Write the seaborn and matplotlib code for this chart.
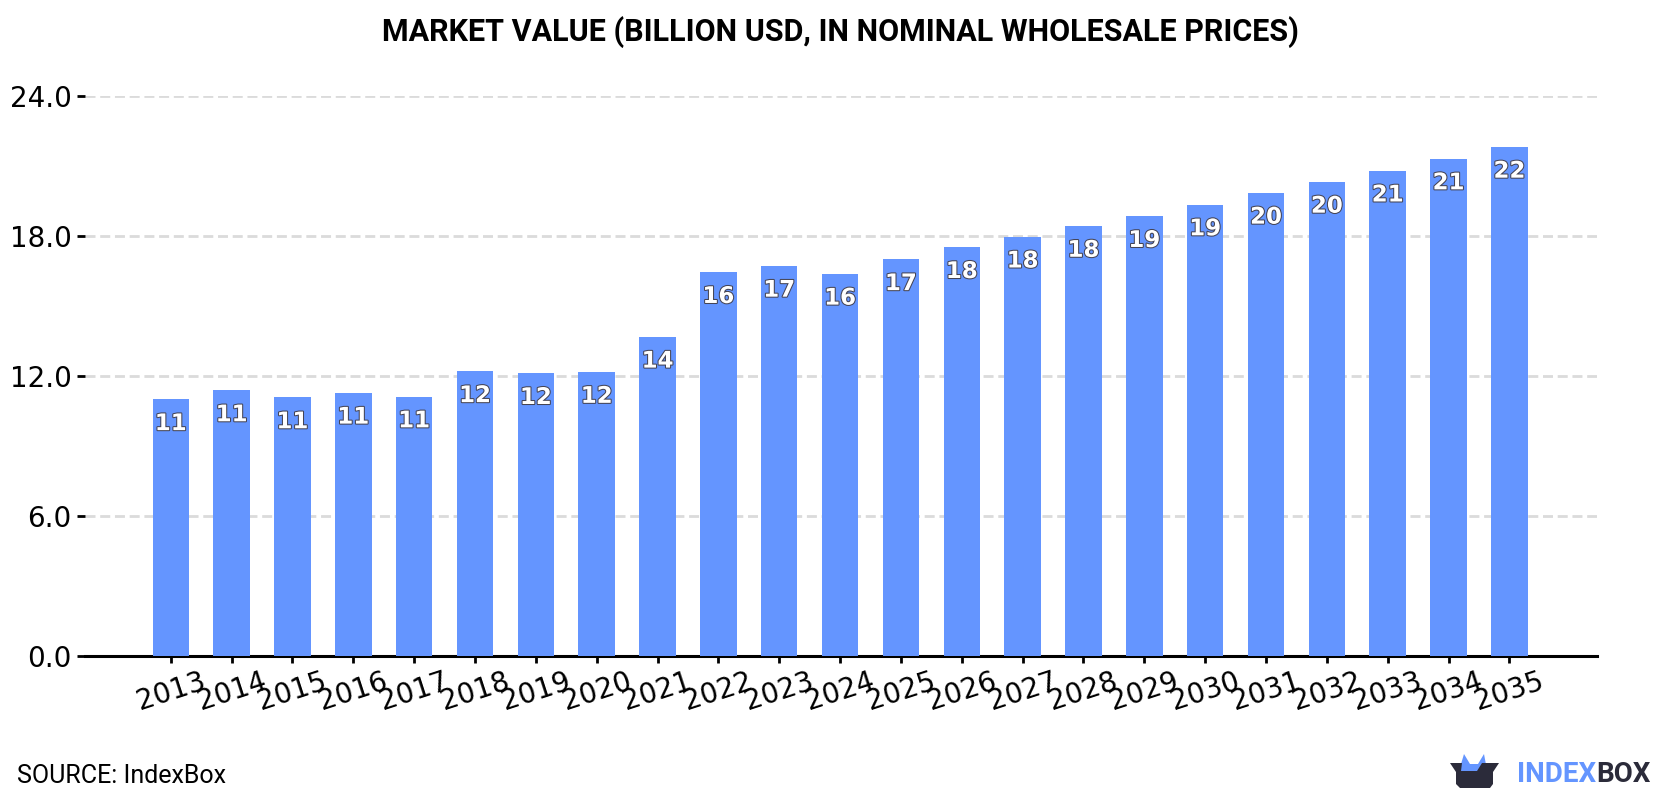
import matplotlib
matplotlib.use("Agg")
import matplotlib.pyplot as plt
import matplotlib.patheffects as pe
from matplotlib.patches import Polygon
from matplotlib.transforms import IdentityTransform
import pandas as pd
import seaborn as sns

years = [2013, 2014, 2015, 2016, 2017, 2018, 2019, 2020, 2021, 2022, 2023, 2024,
         2025, 2026, 2027, 2028, 2029, 2030, 2031, 2032, 2033, 2034, 2035]
market_value = [11.0, 11.38, 11.08, 11.28, 11.12, 12.2, 12.12, 12.17, 13.68, 16.45, 16.72, 16.38,
                17.0, 17.52, 17.97, 18.43, 18.85, 19.35, 19.85, 20.32, 20.8, 21.32, 21.82]
y_ticks = [0, 6, 12, 18, 24]
title = "MARKET VALUE (BILLION USD, IN NOMINAL WHOLESALE PRICES)"
source = "SOURCE: IndexBox"

BLUE = "#6495FF"
DARK = "#2B2B3A"

sns.set_theme(style="ticks")
plt.rcParams["font.family"] = ["DejaVu Sans"]

W, H = 1680, 800
fig = plt.figure(figsize=(W / 100, H / 100), dpi=100, facecolor="white")
ax = fig.add_axes([85 / W, 1 - 656 / H, (1597 - 85) / W, (656 - 96) / H])

df = pd.DataFrame({"year": [str(y) for y in years], "value": market_value})
sns.barplot(data=df, x="year", y="value", color=BLUE, saturation=1, width=0.6,
            linewidth=0, ax=ax, zorder=3)

ax.set_xlim(-1.41, 23.44)
ax.set_ylim(0, 24)
ax.set_yticks(y_ticks, [f"{t:.1f}" for t in y_ticks])
ax.set_xlabel("")
ax.set_ylabel("")
ax.yaxis.grid(True, color="#DBDBDB", linestyle=(0, (3.6, 1.7)), linewidth=2, zorder=0)
ax.xaxis.grid(False)
ax.set_axisbelow(True)

sns.despine(ax=ax, left=True, top=True, right=True)
ax.spines["bottom"].set_linewidth(2.2)
ax.spines["bottom"].set_color("black")
ax.tick_params(axis="y", left=True, length=6, width=2, color="black", labelsize=20, pad=3.5,
               labelcolor="black")
ax.tick_params(axis="x", bottom=True, length=5, width=2, color="black", labelsize=20, pad=3,
               labelrotation=18, labelcolor="black")

# Value labels sit just inside the top of each bar
for i, v in enumerate(market_value):
    ax.annotate(f"{v:.0f}", (i, v), xytext=(0, -17.5), textcoords="offset points",
                ha="center", va="center", fontsize=16.5, fontweight="bold", color="white",
                zorder=5, path_effects=[pe.withStroke(linewidth=1.5, foreground="#444455")])

fig.text(0.5005, 1 - 32 / H, title, ha="center", va="center", fontsize=22,
         fontweight="bold", family="Roboto", color="black")
fig.text(17 / W, 1 - 776 / H, source, ha="left", va="center", fontsize=18,
         family="Roboto", color="black")

# Brand mark in the lower right corner, laid out in pixel units
def px(x, y):
    return (x, H - y)

identity = IdentityTransform()
fig.add_artist(Polygon([px(1461, 764), px(1464, 754), px(1470, 764), px(1478, 764), px(1484, 754),
                        px(1487, 770), px(1477, 771), px(1461, 771)],
                       closed=True, facecolor=BLUE, edgecolor="none", transform=identity))
fig.add_artist(Polygon([px(1450, 763), px(1462, 763), px(1461, 771), px(1477, 771), px(1482, 763),
                        px(1499, 763), px(1493, 772), px(1493, 784), px(1490, 788),
                        px(1460, 788), px(1456, 784), px(1456, 772)],
                       closed=True, facecolor=DARK, edgecolor="none", transform=identity))

brand_a = fig.text(1517 / W, 1 - 775 / H, "INDEX", ha="left", va="center", fontsize=20,
                   fontweight="bold", family="Roboto", color=BLUE)
fig.canvas.draw()
end_x = brand_a.get_window_extent().x1
fig.text(end_x / W, 1 - 775 / H, "BOX", ha="left", va="center", fontsize=20,
         fontweight="bold", family="Roboto", color=DARK)

fig.savefig("out.png", dpi=100, facecolor="white")
